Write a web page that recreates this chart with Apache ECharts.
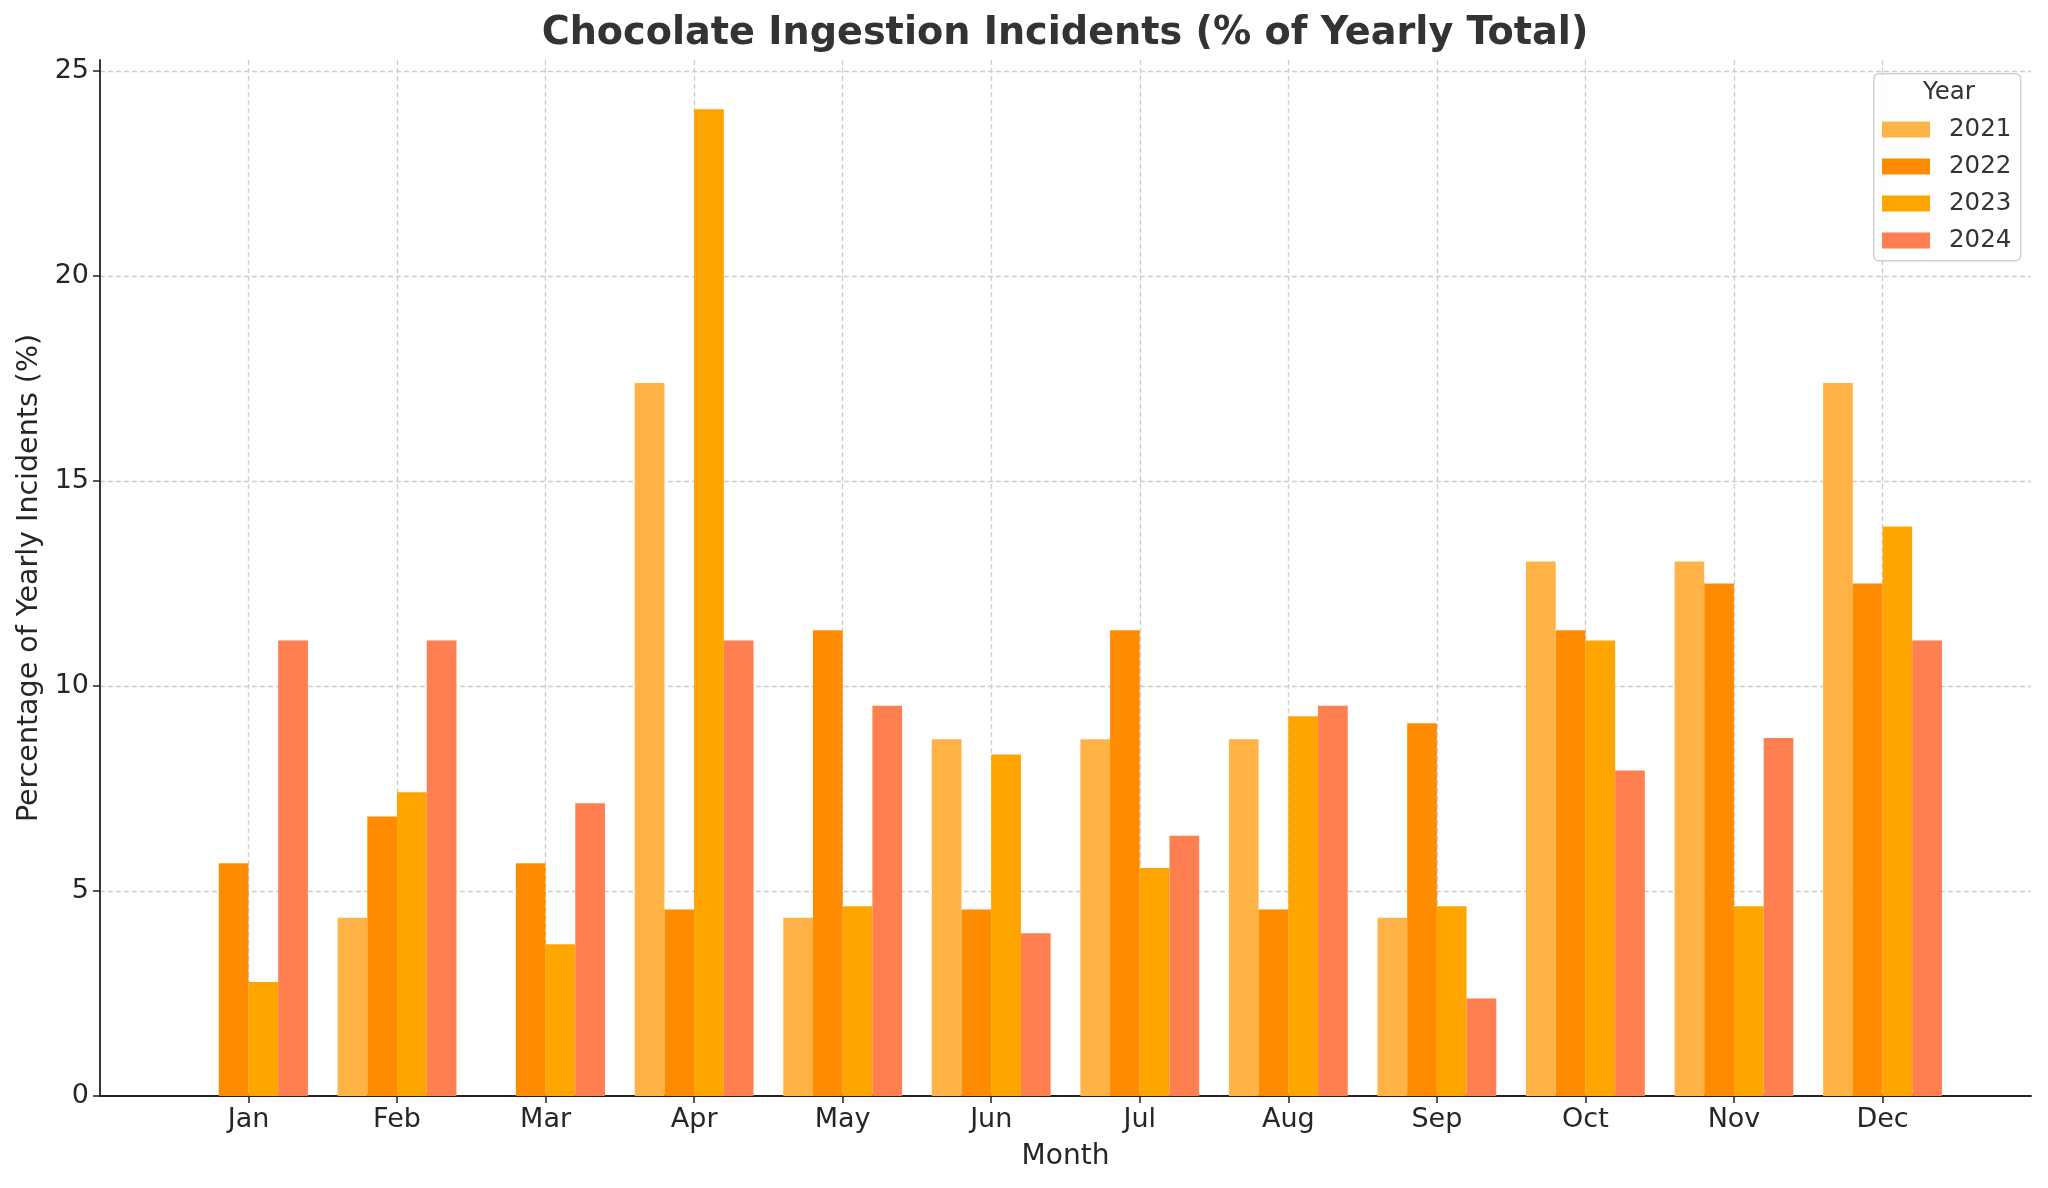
<!DOCTYPE html>
<html>
<head>
<meta charset="utf-8">
<script src="https://cdn.jsdelivr.net/npm/echarts@6/dist/echarts.min.js"></script>
<style>
html,body{margin:0;padding:0;background:#fff;}
#chart{width:2048px;height:1188px;}
</style>
</head>
<body>
<div id="chart"></div>
<script>
const months = ['Jan','Feb','Mar','Apr','May','Jun','Jul','Aug','Sep','Oct','Nov','Dec'];
const years = ['2021','2022','2023','2024'];
const v2021 = [0, 4.35, 0, 17.39, 4.35, 8.70, 8.70, 8.70, 4.35, 13.04, 13.04, 17.39];
const v2022 = [5.68, 6.82, 5.68, 4.55, 11.36, 4.55, 11.36, 4.55, 9.09, 11.36, 12.50, 12.50];
const v2023 = [2.78, 7.41, 3.70, 24.07, 4.63, 8.33, 5.56, 9.26, 4.63, 11.11, 4.63, 13.89];
const v2024 = [11.11, 11.11, 7.14, 11.11, 9.52, 3.97, 6.35, 9.52, 2.38, 7.94, 8.73, 11.11];
const yTicks = [0, 5, 10, 15, 20, 25];
const colors = ['#FFB347', '#FF8C00', '#FFA500', '#FF7F50'];

const FONT = 'DejaVu Sans';
const seriesValues = [v2021, v2022, v2023, v2024];
const Y_MAX = 25.27;

const chart = echarts.init(document.getElementById('chart'), null, {renderer: 'canvas'});
const gridDash = {color: '#cccccc', width: 1.3, type: [5, 3]};

const option = {
  backgroundColor: '#ffffff',
  animation: false,
  title: {
    text: 'Chocolate Ingestion Incidents (% of Yearly Total)',
    left: 1065, top: 15, textAlign: 'center', padding: 0,
    textStyle: {fontFamily: FONT, fontSize: 38.2, fontWeight: 'bold', color: '#333333'}
  },
  grid: [
    {left: 100, right: 17, top: 60, bottom: 92},
    {left: 174.2, right: 91.2, top: 60, bottom: 92}
  ],
  xAxis: [
    {
      gridIndex: 0, type: 'value', min: -1, max: 12, interval: 1,
      axisLine: {show: true, onZero: false, lineStyle: {color: '#222222', width: 1.8}},
      axisTick: {show: false}, axisLabel: {show: false},
      splitLine: {show: true, showMinLine: false, showMaxLine: false, lineStyle: gridDash}
    },
    {
      gridIndex: 1, type: 'category', data: months,
      axisLine: {show: false},
      axisTick: {show: true, alignWithLabel: true, length: 7, lineStyle: {color: '#222222', width: 1.5}},
      axisLabel: {fontFamily: FONT, fontSize: 27, color: '#262626', margin: 10},
      splitLine: {show: false},
      name: 'Month', nameLocation: 'middle', nameGap: 47,
      nameTextStyle: {fontFamily: FONT, fontSize: 28, color: '#262626'}
    }
  ],
  yAxis: [
    {
      gridIndex: 0, type: 'value', min: 0, max: Y_MAX, interval: 5,
      axisLine: {show: true, onZero: false, lineStyle: {color: '#222222', width: 1.8}},
      axisTick: {show: true, length: 7, customValues: yTicks, lineStyle: {color: '#222222', width: 1.5}},
      axisLabel: {fontFamily: FONT, fontSize: 27, color: '#262626', margin: 11, customValues: yTicks},
      splitLine: {show: true, showMinLine: false, lineStyle: gridDash},
      name: 'Percentage of Yearly Incidents (%)', nameLocation: 'middle', nameGap: 56, nameRotate: 90,
      nameTextStyle: {fontFamily: FONT, fontSize: 28.5, color: '#262626'}
    },
    {gridIndex: 1, type: 'value', min: 0, max: Y_MAX, show: false, splitLine: {show: false}}
  ],
  legend: {
    orient: 'vertical', left: 1882, top: 117, padding: 0,
    itemWidth: 48, itemHeight: 16, itemGap: 12, icon: 'rect',
    data: years,
    textStyle: {fontFamily: FONT, fontSize: 24.5, lineHeight: 24, color: '#333333', padding: [0, 0, 0, 14]}
  },
  graphic: [
    {type: 'rect', left: 1873, top: 73, z: 50,
     shape: {width: 147, height: 187, r: 5},
     style: {fill: 'rgba(255,255,255,0.85)', stroke: '#d0d0d0', lineWidth: 1.5}},
    {type: 'text', left: 1923, top: 80, z: 51,
     style: {text: 'Year', fontFamily: FONT, fontSize: 24.5, fill: '#333333'}}
  ],
  series: years.map((y, i) => ({
    name: y, type: 'bar', xAxisIndex: 1, yAxisIndex: 1,
    data: seriesValues[i],
    barGap: '0%', barCategoryGap: '20%',
    itemStyle: {color: colors[i]},
    z: 3
  }))
};
option.legend.z = 60;
chart.setOption(option);
</script>
</body>
</html>
